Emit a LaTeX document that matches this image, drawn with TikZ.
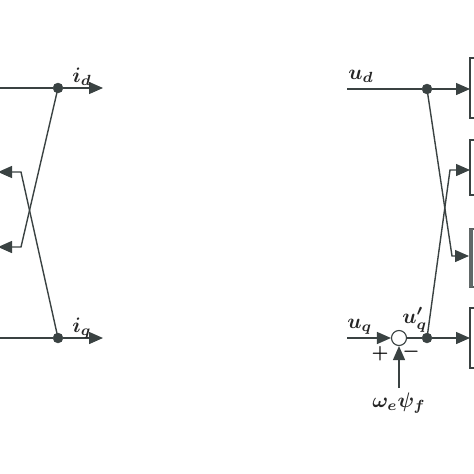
\documentclass[tikz,border=0pt]{standalone}
\usetikzlibrary{arrows.meta}
\definecolor{wire}{HTML}{3A4242}
\begin{document}
\begin{tikzpicture}[x=1pt, y=-1pt, auto]
    \tikzstyle{wire line} = [draw=wire, line width=1.4pt]
    \tikzstyle{wire arrow} = [wire line, -{Triangle[length=14pt,width=12pt]}]
    \tikzstyle{junction} = [circle, fill=wire, draw=wire, inner sep=0pt, minimum size=10pt]
    \tikzstyle{summer} = [circle, fill=white, draw=wire, line width=1.1pt, inner sep=0pt, minimum size=15pt]
    \tikzstyle{block} = [draw=wire, line width=1.1pt]
    \tikzstyle{signal} = [text=black!85, font=\boldmath, scale=2.1, inner sep=0pt, anchor=base west]
    \tikzstyle{sign} = [text=black, font=\bfseries\boldmath, scale=1.9, inner sep=0pt]
\useasboundingbox (0,0) rectangle (474,474);
\clip (0,0) rectangle (474,474);
% left part
\coordinate (idin) at (-10, 88);
\coordinate (iqin) at (-10, 338);
\node[junction] (iddot) at (58, 88) {};
\node[junction] (iqdot) at (58, 338) {};
\coordinate (idout) at (103, 88);
\coordinate (iqout) at (103, 338);
\coordinate (bendup) at (21, 172);
\coordinate (benddown) at (21, 247);
\coordinate (leftup) at (-2, 172);
\coordinate (leftdown) at (-2, 247);
\draw[wire line] (idin) to (iddot);
\draw[wire line] (iqin) to (iqdot);
\draw[wire arrow] (iddot) to (idout);
\draw[wire arrow] (iqdot) to (iqout);
\draw[wire arrow] (iqdot.center) -- (bendup) -- (leftup);
\draw[wire arrow] (iddot.center) -- (benddown) -- (leftdown);
\node[signal] (idlabel) at (72, 82) {$i_d$};
\node[signal] (iqlabel) at (72, 332) {$i_q$};
% right part
\coordinate (udin) at (347, 89);
\coordinate (uqin) at (347, 338);
\node[junction] (uddot) at (427, 89) {};
\node[summer] (sum) at (399, 338) {};
\node[junction] (uqdot) at (427, 338) {};
\coordinate (wpsi) at (399, 388);
\coordinate (crossa) at (452, 256);
\coordinate (crossb) at (450, 170);
\draw[block] (470, 58) rectangle (495, 118);
\draw[block] (470, 140) rectangle (495, 195);
\draw[block, draw=wire!85] (470, 229) rectangle (495, 287);
\draw[draw=wire!80, line width=3.5pt] (471, 229) -- (471, 287);
\draw[block] (470, 308) rectangle (495, 368);
\coordinate (box1) at (470, 89);
\coordinate (box2) at (470, 170);
\coordinate (box3) at (469, 256);
\coordinate (box4) at (470, 338);
\draw[wire line] (udin) to (uddot);
\draw[wire arrow] (uddot) to (box1);
\draw[wire arrow] (uddot.center) -- (crossa) -- (box3);
\draw[wire arrow] (uqin) to (sum);
\draw[wire arrow] (wpsi) to (sum);
\draw[wire line] (sum) to (uqdot);
\draw[wire arrow] (uqdot) to (box4);
\draw[wire arrow] (uqdot.center) -- (crossb) -- (box2);
\node[signal] (udlabel) at (348, 79) {$u_d$};
\node[signal] (uqlabel) at (347, 328) {$u_q$};
\node[signal] (uqplabel) at (402, 323) {$u'_q$};
\node[signal] (wpsilabel) at (372, 407) {$\omega_e\psi_f$};
\node[sign] (plus) at (380, 354) {+};
\node[sign] (minus) at (411, 352) {$-$};
\end{tikzpicture}
\end{document}
